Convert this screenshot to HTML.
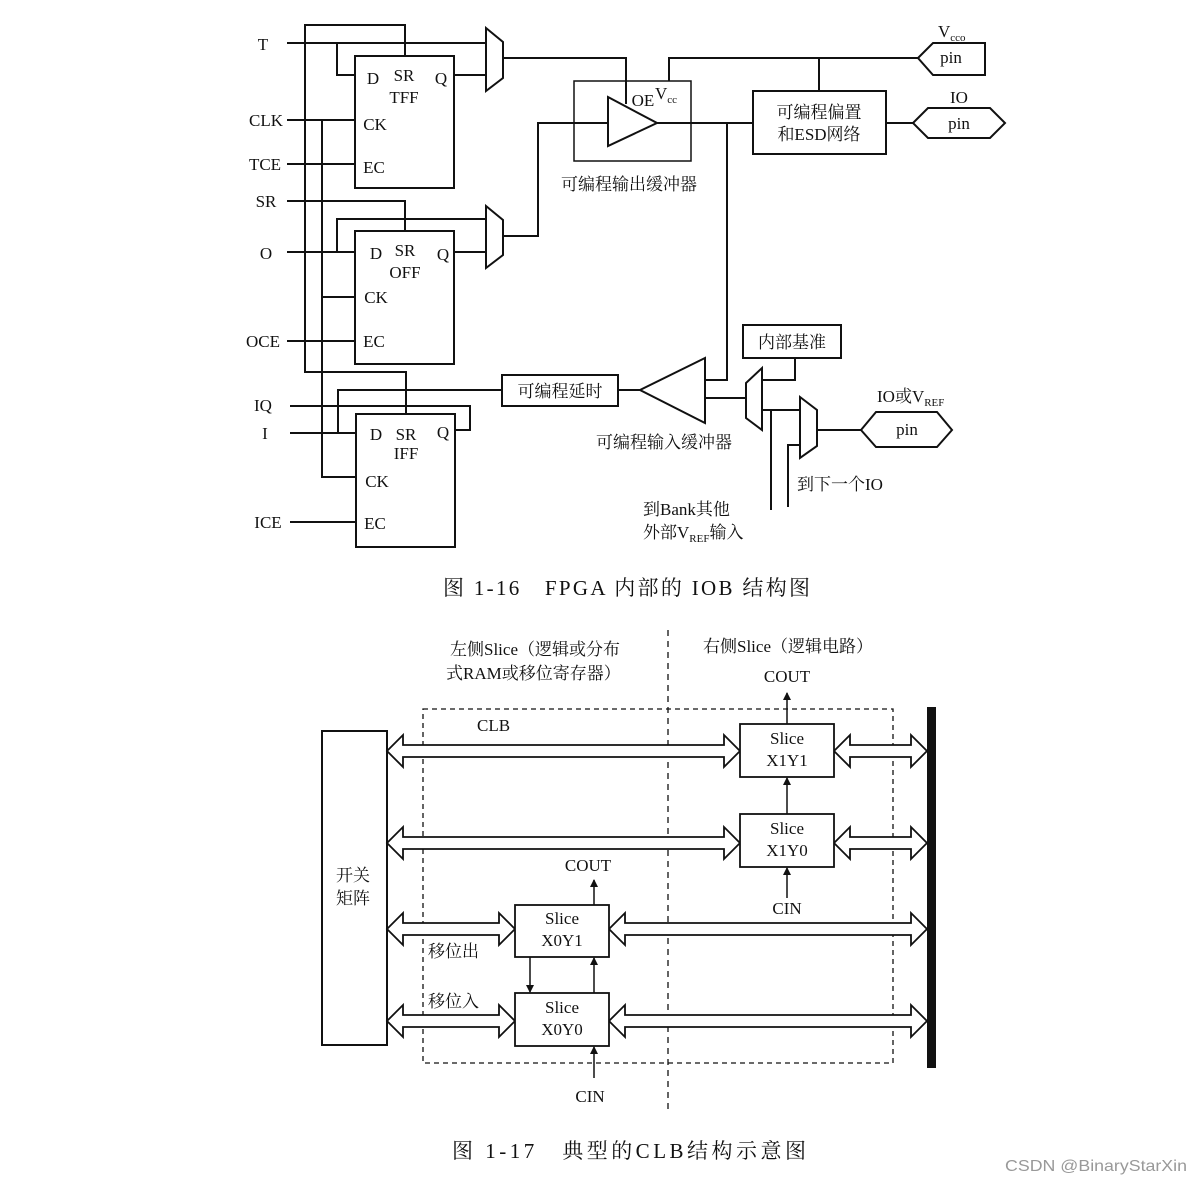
<!DOCTYPE html>
<html><head><meta charset="utf-8"><style>
html,body{margin:0;padding:0;background:#fff;}
svg{display:block;}
text{font-family:"Liberation Serif","Noto Serif CJK SC",serif;fill:#111;}
</style></head><body>
<svg width="1201" height="1184" viewBox="0 0 1201 1184" xmlns="http://www.w3.org/2000/svg">
<defs>
<marker id="ah" markerWidth="8" markerHeight="10" refX="7" refY="5" orient="auto" markerUnits="userSpaceOnUse">
<path d="M0,1 L8,5 L0,9 Z" fill="#111"/></marker>
</defs>
<g stroke="#111" stroke-width="2" fill="none">
<rect x="355" y="56" width="99" height="132"/>
<rect x="355" y="231" width="99" height="133"/>
<rect x="356" y="414" width="99" height="133"/>
<polyline points="405,56 405,25 305,25 305,372 406,372 406,414"/>
<line x1="287" y1="43" x2="486" y2="43"/>
<polyline points="337,43 337,75 355,75"/>
<line x1="454" y1="75" x2="486" y2="75"/>
<line x1="287" y1="120" x2="355" y2="120"/>
<polyline points="322,120 322,477 356,477"/>
<line x1="322" y1="297" x2="355" y2="297"/>
<line x1="287" y1="164" x2="355" y2="164"/>
<polyline points="287,201 405,201 405,231"/>
<line x1="287" y1="252" x2="355" y2="252"/>
<polyline points="337,252 337,219 486,219"/>
<line x1="454" y1="252" x2="486" y2="252"/>
<line x1="287" y1="341" x2="355" y2="341"/>
<polyline points="290,406 470,406 470,430 455,430"/>
<line x1="290" y1="433" x2="356" y2="433"/>
<line x1="290" y1="522" x2="356" y2="522"/>
<polyline points="338,433 338,390 502,390"/>
<polygon points="486,28 503,42 503,78 486,91"/>
<polygon points="486,206 503,220 503,255 486,268"/>
<polyline points="503,58 626,58 626,104"/>
<polyline points="503,236 538,236 538,123 608,123"/>
<rect x="574" y="81" width="117" height="80" stroke-width="1.5"/>
<polygon points="608,97 657,123 608,146"/>
<polyline points="669,81 669,58 918,58"/>
<line x1="819" y1="58" x2="819" y2="91"/>
<polygon points="918,58 933,43 985,43 985,75 933,75"/>
<line x1="657" y1="123" x2="753" y2="123"/>
<rect x="753" y="91" width="133" height="63"/>
<line x1="886" y1="123" x2="913" y2="123"/>
<polygon points="913,123 928,108 990,108 1005,123 990,138 928,138"/>
<polyline points="727,123 727,380 705,380"/>
<polygon points="705,358 640,390 705,423"/>
<line x1="618" y1="390" x2="640" y2="390"/>
<rect x="502" y="375" width="116" height="31"/>
<line x1="705" y1="398" x2="746" y2="398"/>
<rect x="743" y="325" width="98" height="33"/>
<polyline points="795,358 795,380 762,380"/>
<polygon points="746,383 762,368 762,430 746,418"/>
<line x1="762" y1="410" x2="800" y2="410"/>
<polygon points="800,397 817,410 817,446 800,458"/>
<line x1="771" y1="410" x2="771" y2="510"/>
<polyline points="800,445 788,445 788,507"/>
<line x1="817" y1="430" x2="861" y2="430"/>
<polygon points="861,430 876,412 937,412 952,430 937,447 876,447"/>
</g>
<g font-size="17">
<text x="263" y="50" text-anchor="middle">T</text>
<text x="266" y="126" text-anchor="middle">CLK</text>
<text x="265" y="170" text-anchor="middle">TCE</text>
<text x="266" y="207" text-anchor="middle">SR</text>
<text x="266" y="259" text-anchor="middle">O</text>
<text x="263" y="347" text-anchor="middle">OCE</text>
<text x="263" y="411" text-anchor="middle">IQ</text>
<text x="265" y="439" text-anchor="middle">I</text>
<text x="268" y="528" text-anchor="middle">ICE</text>
<text x="373" y="84" text-anchor="middle">D</text><text x="404" y="81" text-anchor="middle">SR</text><text x="404" y="103" text-anchor="middle">TFF</text><text x="441" y="84" text-anchor="middle">Q</text>
<text x="375" y="130" text-anchor="middle">CK</text><text x="374" y="173" text-anchor="middle">EC</text>
<text x="376" y="259" text-anchor="middle">D</text><text x="405" y="256" text-anchor="middle">SR</text><text x="405" y="278" text-anchor="middle">OFF</text><text x="443" y="260" text-anchor="middle">Q</text>
<text x="376" y="303" text-anchor="middle">CK</text><text x="374" y="347" text-anchor="middle">EC</text>
<text x="376" y="440" text-anchor="middle">D</text><text x="406" y="440" text-anchor="middle">SR</text><text x="406" y="459" text-anchor="middle">IFF</text><text x="443" y="438" text-anchor="middle">Q</text>
<text x="377" y="487" text-anchor="middle">CK</text><text x="375" y="529" text-anchor="middle">EC</text>
<text x="643" y="106" text-anchor="middle">OE</text>
<text x="655" y="99">V<tspan font-size="11" dy="4">cc</tspan></text>
<text x="938" y="37">V<tspan font-size="11" dy="4">cco</tspan></text>
<text x="951" y="63" text-anchor="middle">pin</text>
<text x="959" y="103" text-anchor="middle">IO</text>
<text x="959" y="129" text-anchor="middle">pin</text>
<text x="907" y="435" text-anchor="middle">pin</text>
<text x="877" y="402">IO或V<tspan font-size="11" dy="4">REF</tspan></text>
<text x="819" y="118" text-anchor="middle">可编程偏置</text>
<text x="819" y="140" text-anchor="middle">和ESD网络</text>
<text x="629" y="190" text-anchor="middle">可编程输出缓冲器</text>
<text x="560" y="397" text-anchor="middle">可编程延时</text>
<text x="792" y="348" text-anchor="middle">内部基准</text>
<text x="664" y="448" text-anchor="middle">可编程输入缓冲器</text>
<text x="797" y="490">到下一个IO</text>
<text x="643" y="515">到Bank其他</text>
<text x="643" y="538">外部V<tspan font-size="11" dy="4">REF</tspan><tspan dy="-4">输入</tspan></text>
</g>
<text x="443" y="595" font-size="21" textLength="367" lengthAdjust="spacing">图 1-16　FPGA 内部的 IOB 结构图</text>

<g stroke="#111" fill="none">
<rect x="423" y="709" width="470" height="354" stroke-width="1.3" stroke-dasharray="5,4"/>
<line x1="668" y1="630" x2="668" y2="1110" stroke-width="1.3" stroke-dasharray="6,5"/>
<rect x="322" y="731" width="65" height="314" stroke-width="2"/>
<rect x="927" y="707" width="9" height="361" fill="#111" stroke="none"/>
<g fill="#fff" stroke-width="1.8">
<polygon points="387,751 403,735 403,745 724,745 724,735 740,751 724,767 724,757 403,757 403,767"/>
<polygon points="834,751 850,735 850,745 911,745 911,735 927,751 911,767 911,757 850,757 850,767"/>
<polygon points="387,843 403,827 403,837 724,837 724,827 740,843 724,859 724,849 403,849 403,859"/>
<polygon points="834,843 850,827 850,837 911,837 911,827 927,843 911,859 911,849 850,849 850,859"/>
<polygon points="387,929 403,913 403,923 499,923 499,913 515,929 499,945 499,935 403,935 403,945"/>
<polygon points="609,929 625,913 625,923 911,923 911,913 927,929 911,945 911,935 625,935 625,945"/>
<polygon points="387,1021 403,1005 403,1015 499,1015 499,1005 515,1021 499,1037 499,1027 403,1027 403,1037"/>
<polygon points="609,1021 625,1005 625,1015 911,1015 911,1005 927,1021 911,1037 911,1027 625,1027 625,1037"/>
<rect x="740" y="724" width="94" height="53"/>
<rect x="740" y="814" width="94" height="53"/>
<rect x="515" y="905" width="94" height="52"/>
<rect x="515" y="993" width="94" height="53"/>
</g>
<g stroke-width="1.5" marker-end="url(#ah)">
<line x1="787" y1="724" x2="787" y2="693"/>
<line x1="787" y1="814" x2="787" y2="778"/>
<line x1="787" y1="898" x2="787" y2="868"/>
<line x1="594" y1="905" x2="594" y2="880"/>
<line x1="594" y1="993" x2="594" y2="958"/>
<line x1="530" y1="957" x2="530" y2="992"/>
<line x1="594" y1="1078" x2="594" y2="1047"/>
</g>
</g>
<g font-size="17">
<text x="787" y="744" text-anchor="middle">Slice</text><text x="787" y="766" text-anchor="middle">X1Y1</text>
<text x="787" y="834" text-anchor="middle">Slice</text><text x="787" y="856" text-anchor="middle">X1Y0</text>
<text x="562" y="924" text-anchor="middle">Slice</text><text x="562" y="946" text-anchor="middle">X0Y1</text>
<text x="562" y="1013" text-anchor="middle">Slice</text><text x="562" y="1035" text-anchor="middle">X0Y0</text>
<text x="787" y="682" text-anchor="middle">COUT</text>
<text x="588" y="871" text-anchor="middle">COUT</text>
<text x="787" y="914" text-anchor="middle">CIN</text>
<text x="590" y="1102" text-anchor="middle">CIN</text>
<text x="477" y="731">CLB</text>
<text x="428" y="957">移位出</text>
<text x="428" y="1007">移位入</text>
<text x="353" y="881" text-anchor="middle">开关</text>
<text x="353" y="904" text-anchor="middle">矩阵</text>
<text x="450" y="655">左侧Slice（逻辑或分布</text>
<text x="446" y="679">式RAM或移位寄存器）</text>
<text x="703" y="652">右侧Slice（逻辑电路）</text>
</g>
<text x="452" y="1158" font-size="21" textLength="354" lengthAdjust="spacing">图 1-17　典型的CLB结构示意图</text>
<text x="1005" y="1171" font-size="16" textLength="182" lengthAdjust="spacingAndGlyphs" style="font-family:'Liberation Sans',sans-serif;fill:#999">CSDN @BinaryStarXin</text>
</svg>
</body></html>
